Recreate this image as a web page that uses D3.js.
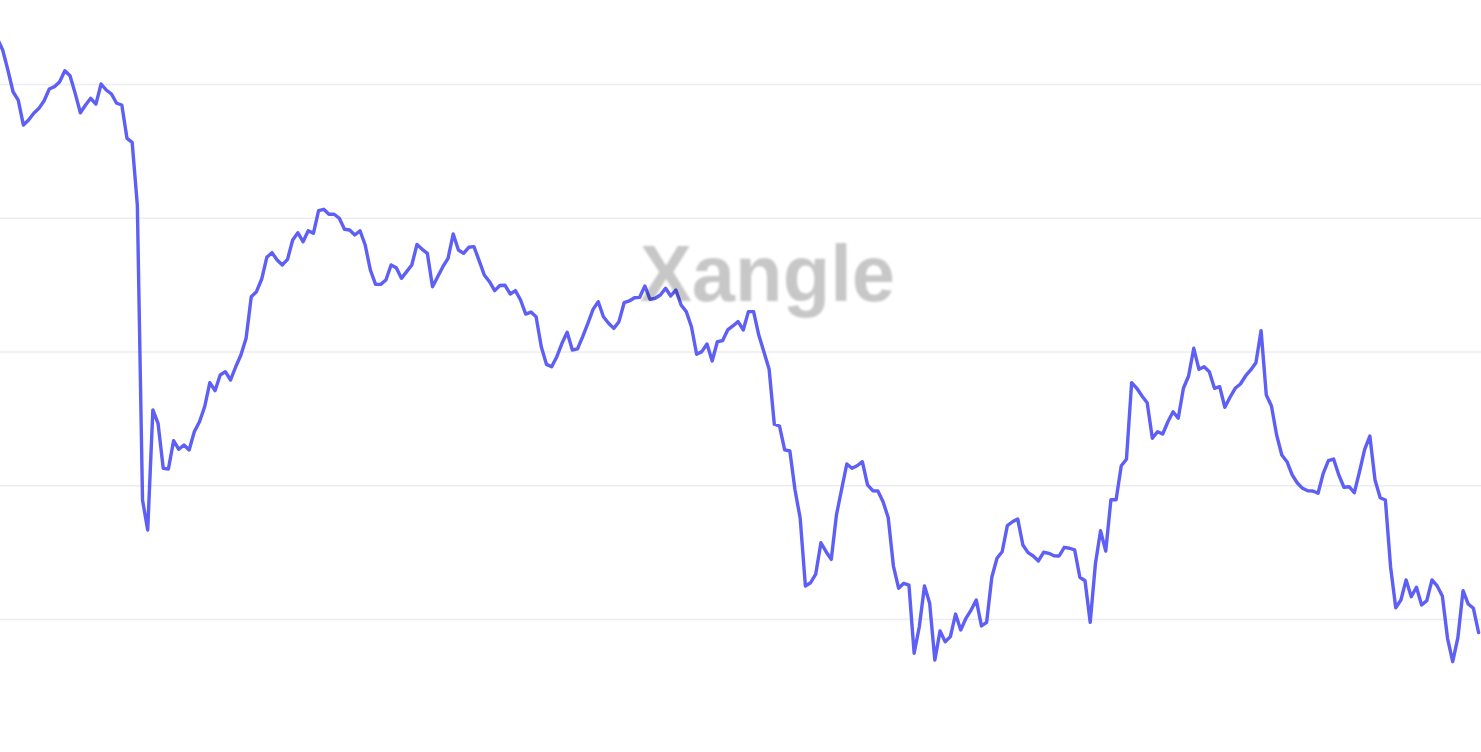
<!DOCTYPE html>
<html>
<head>
<meta charset="utf-8">
<script src="https://cdn.jsdelivr.net/npm/d3@7"></script>
<style>
  html, body { margin: 0; padding: 0; background: #ffffff; overflow: hidden; }
  svg { display: block; }
</style>
</head>
<body>
<svg id="chart" width="1481" height="752"></svg>
<script>
// Series values (one per day, oldest first)
const seriesValues = [
  53.36, 52.54, 51.05, 49.42, 48.80, 46.93, 47.31, 47.81, 48.18, 48.75,
  49.63, 49.80, 50.17, 50.99, 50.62, 49.30, 47.85, 48.43, 48.93, 48.50,
  50.00, 49.55, 49.25, 48.56, 48.43, 45.94, 45.64, 40.95, 18.90, 16.65,
  25.63, 24.63, 21.27, 21.21, 23.33, 22.69, 23.01, 22.64, 24.00, 24.75,
  25.87, 27.67, 27.07, 28.24, 28.49, 27.87, 28.86, 29.74, 30.99, 34.10,
  34.47, 35.40, 37.04, 37.39, 36.84, 36.47, 36.89, 38.34, 38.88, 38.21,
  39.03, 38.84, 40.53, 40.63, 40.26, 40.26, 39.96, 39.14, 39.08, 38.71,
  39.03, 37.96, 36.09, 35.02, 35.02, 35.35, 36.47, 36.27, 35.47, 35.97,
  36.47, 38.01, 37.64, 37.34, 34.84, 35.59, 36.34, 36.97, 38.79, 37.59,
  37.34, 37.79, 37.84, 36.79, 35.72, 35.22, 34.55, 34.93, 34.95, 34.30,
  34.55, 33.85, 32.80, 32.95, 32.60, 30.36, 29.04, 28.86, 29.61, 30.61,
  31.44, 30.11, 30.19, 31.11, 32.11, 33.15, 33.72, 32.60, 32.11, 31.73,
  32.23, 33.65, 33.78, 34.02, 34.05, 34.90, 33.90, 33.98, 34.22, 34.73,
  34.15, 34.60, 33.48, 32.98, 31.85, 29.79, 29.99, 30.56, 29.29, 30.73,
  30.81, 31.61, 31.91, 32.23, 31.61, 32.98, 32.98, 31.23, 29.96, 28.67,
  24.56, 24.43, 22.64, 22.56, 19.64, 17.53, 12.47, 12.71, 13.36, 15.70,
  15.03, 14.46, 17.78, 19.70, 21.59, 21.27, 21.46, 21.76, 20.02, 19.59,
  19.57, 18.77, 17.57, 13.96, 12.30, 12.67, 12.54, 7.44, 9.42, 12.47,
  11.17, 6.93, 9.10, 8.30, 8.68, 10.37, 9.18, 10.05, 10.67, 11.42,
  9.48, 9.75, 13.12, 14.54, 15.03, 16.98, 17.27, 17.48, 15.53, 14.96,
  14.71, 14.34, 14.99, 14.91, 14.73, 14.71, 15.36, 15.29, 15.16, 13.12,
  12.86, 9.75, 14.11, 16.60, 15.08, 18.92, 18.92, 21.46, 21.94, 27.67,
  27.25, 26.67, 26.17, 23.51, 24.00, 23.83, 24.75, 25.50, 25.01, 27.25,
  28.17, 30.24, 28.67, 28.86, 28.49, 27.25, 27.37, 25.83, 26.58, 27.25,
  27.57, 28.17, 28.62, 29.16, 31.56, 26.75, 25.93, 23.76, 22.26, 21.76,
  20.77, 20.17, 19.77, 19.59, 19.57, 19.40, 20.89, 21.84, 21.96, 20.77,
  19.85, 19.89, 19.44, 21.01, 22.69, 23.68, 20.39, 19.07, 18.90, 13.91,
  10.84, 11.42, 12.92, 11.67, 12.37, 11.05, 11.37, 12.92, 12.47, 11.72,
  8.56, 6.81, 8.60, 12.12, 11.12, 10.80, 8.98
];

// Horizontal gridline values
const gridTicks = [10, 20, 30, 40, 50];

// Watermark text
const watermarkText = "Xangle";

const W = 1481, H = 752;
const svg = d3.select("#chart");

const x = d3.scaleLinear()
  .domain([0, seriesValues.length - 1])
  .range([-2.48, 1478.6]);

const y = d3.scaleLinear()
  .domain([0, 56.28])
  .range([752.75, 0]);

// Gridlines via axis
const gridAxis = d3.axisLeft(y)
  .tickValues(gridTicks)
  .tickSize(-W)
  .tickFormat("");

const g = svg.append("g")
  .call(gridAxis);
g.select(".domain").remove();
g.selectAll(".tick line")
  .attr("stroke", "#ececf2")
  .attr("stroke-width", 1.3);

// Line
const line = d3.line()
  .x((d, i) => x(i))
  .y(d => y(d));

svg.append("path")
  .datum(seriesValues)
  .attr("fill", "none")
  .attr("stroke", "#5d5ff5")
  .attr("stroke-width", 3.4)
  .attr("stroke-linejoin", "round")
  .attr("stroke-linecap", "round")
  .attr("d", line);

// Watermark (on top, translucent)
const defs = svg.append("defs");
defs.append("filter").attr("id", "wmblur")
  .append("feGaussianBlur").attr("stdDeviation", 0.9);

svg.append("text")
  .attr("x", 640)
  .attr("y", 301)
  .attr("font-family", "'Liberation Sans', Arial, sans-serif")
  .attr("font-weight", "bold")
  .attr("font-size", 80)
  .attr("textLength", 255)
  .attr("lengthAdjust", "spacingAndGlyphs")
  .attr("fill", "#000")
  .attr("fill-opacity", 0.22)
  .attr("filter", "url(#wmblur)")
  .text(watermarkText);
</script>
</body>
</html>
